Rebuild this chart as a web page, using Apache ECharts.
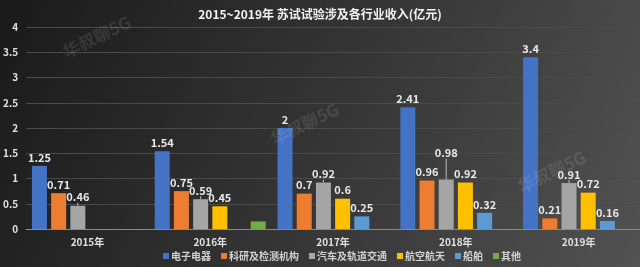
<!DOCTYPE html>
<html>
<head>
    <meta charset="utf-8">
    <title>苏试试验涉及各行业收入</title>
    <script src="https://cdn.jsdelivr.net/npm/echarts@6/dist/echarts.min.js"></script>
    <style>
        html, body { margin: 0; padding: 0; width: 100%; height: 100%; overflow: hidden; }
        #main { width: 640px; height: 267px; }
    </style>
</head>
<body>
    <div id="main"></div>
    <script>
        const years = ['2015年', '2016年', '2017年', '2018年', '2019年'];
        const seriesNames = ['电子电器', '科研及检测机构', '汽车及轨道交通', '航空航天', '船舶', '其他'];
        const dianzi = [1.25, 1.54, 2, 2.41, 3.4];
        const keyan = [0.71, 0.75, 0.7, 0.96, 0.21];
        const qiche = [0.46, 0.59, 0.92, 0.98, 0.91];
        const hangkong = [null, 0.45, 0.6, 0.92, 0.72];
        const chuanbo = [null, null, 0.25, 0.32, 0.16];
        const qita = [null, 0.15, null, null, null];
        const colors = ['#4472C4', '#ED7D31', '#A5A5A5', '#FFC000', '#5B9BD5', '#70AD47'];

        const font = "'Noto Sans CJK SC', sans-serif";
        const chart = echarts.init(document.getElementById('main'));

        const labelStyle = {
            show: true,
            position: 'top',
            color: '#e8e8e8',
            fontWeight: 'bold',
            fontSize: 11,
            fontFamily: font,
            distance: 3
        };

        function makeSeries(name, data, idx) {
            return {
                name: name,
                type: 'bar',
                data: data,
                barWidth: 15,
                barGap: '28%',
                itemStyle: { color: colors[idx] },
                label: idx === 5 ? { show: false } : labelStyle
            };
        }

        const series = [
            makeSeries(seriesNames[0], dianzi, 0),
            makeSeries(seriesNames[1], keyan, 1),
            makeSeries(seriesNames[2], qiche, 2),
            makeSeries(seriesNames[3], hangkong, 3),
            makeSeries(seriesNames[4], chuanbo, 4),
            makeSeries(seriesNames[5], qita, 5)
        ];
        // 2018年 汽车及轨道交通 的标签上移并带引线
        series[2].labelLine = { show: true, lineStyle: { color: '#bdbdbd', width: 1 } };
        series[2].labelLayout = function (p) {
            if (p.dataIndex === 3) return { dy: -18 };
        };

        const watermark = (x, y) => ({
            type: 'text',
            x: x, y: y,
            rotation: Math.PI / 7,
            style: {
                text: '华叔聊5G',
                fill: 'rgba(255,255,255,0.1)',
                font: 'bold 17px ' + font
            },
            z: 100
        });

        chart.setOption({
            backgroundColor: {
                type: 'linear', x: 0, y: 0, x2: 1, y2: 1,
                colorStops: [
                    { offset: 0, color: '#1a1a1a' },
                    { offset: 0.6, color: '#3a3a3a' },
                    { offset: 1, color: '#525252' }
                ]
            },
            animation: false,
            title: {
                text: '2015~2019年 苏试试验涉及各行业收入(亿元)',
                left: 'center',
                top: 3,
                textStyle: { color: '#f2f2f2', fontSize: 12, fontWeight: 'bold', fontFamily: font }
            },
            legend: {
                data: seriesNames,
                bottom: 1,
                left: 158,
                itemWidth: 6,
                itemHeight: 6,
                itemGap: 10,
                icon: 'rect',
                textStyle: { color: '#d0d0d0', fontSize: 10, fontWeight: 'bold', fontFamily: font, padding: [0, 0, 0, -3] }
            },
            grid: { left: 25, top: 27, bottom: 38, width: 630 },
            xAxis: {
                type: 'category',
                data: years,
                axisTick: { show: false },
                axisLine: { lineStyle: { color: '#8a8a8a' } },
                axisLabel: { color: '#e0e0e0', fontWeight: 'bold', fontSize: 10, fontFamily: font, margin: 8 }
            },
            yAxis: {
                type: 'value',
                min: 0, max: 4, interval: 0.5,
                axisLabel: { color: '#e0e0e0', fontWeight: 'bold', fontSize: 10, fontFamily: font, margin: 8 },
                splitLine: { lineStyle: { color: '#4a4a4a' } },
                axisLine: { show: false },
                axisTick: { show: false }
            },
            series: series,
            graphic: [watermark(60, 45), watermark(268, 132), watermark(515, 180)]
        });
    </script>
</body>
</html>
